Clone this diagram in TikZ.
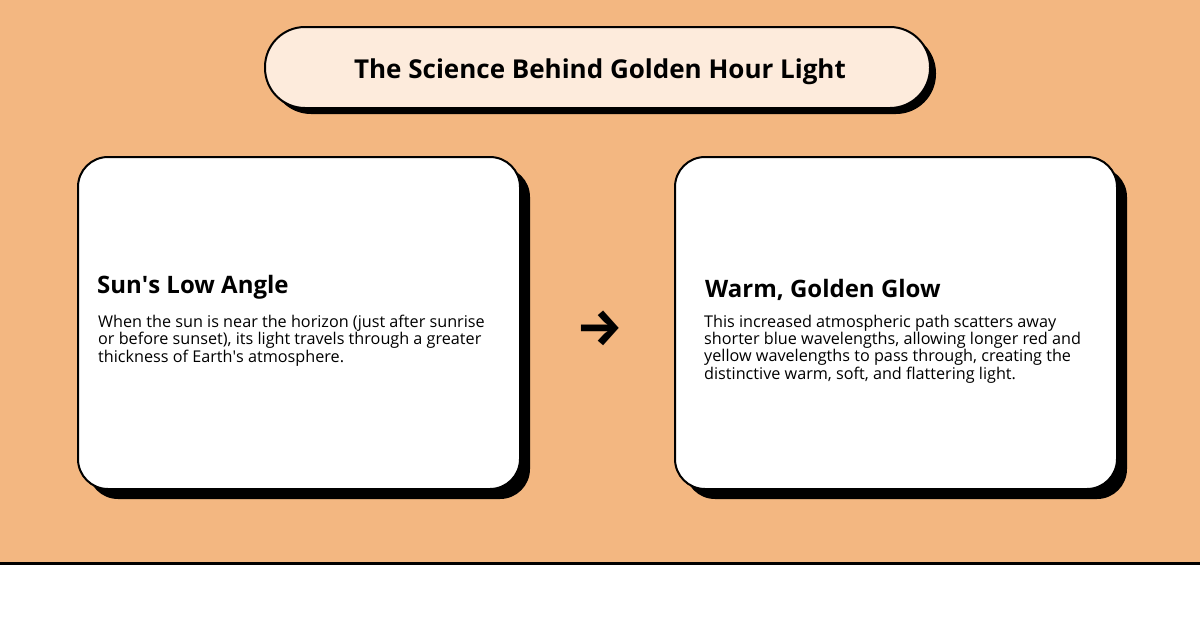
\documentclass[tikz,border=0pt]{standalone}
\usepackage{fontspec}
\setmainfont{Open Sans}
\newfontfamily\arrowfont{Fira Sans}
\usetikzlibrary{shadows}
\definecolor{duskorange}{HTML}{F3B781}
\definecolor{peach}{HTML}{FDEBDC}
\tikzset{
  card/.style={draw=black,line width=2pt,rounded corners=30pt,fill=white,
    minimum width=442pt,minimum height=332pt,anchor=north west,
    drop shadow={shadow xshift=10pt,shadow yshift=-10pt,opacity=1,fill=black}},
  pill/.style={draw=black,line width=2pt,rounded corners=40pt,fill=peach,
    minimum width=665pt,minimum height=81pt,
    drop shadow={shadow xshift=6pt,shadow yshift=-6pt,opacity=1,fill=black}},
  heading/.style={anchor=base west,inner sep=0pt,font=\bfseries\fontsize{24}{28}\selectfont},
  body/.style={anchor=base west,inner sep=0pt,align=left,
    font=\fontsize{16.2}{16}\selectfont}
}

\begin{document}
\begin{tikzpicture}[x=1pt,y=-1pt]
  \useasboundingbox (0,0) rectangle (1200,630);
  \fill[duskorange] (0,0) rectangle (1200,563);
  \draw[line width=3pt] (0,563.5) -- (1200,563.5);

  \node[pill] (title) at (597.5,67.5) {};
  \node[anchor=base,inner sep=0pt,font=\bfseries\fontsize{26}{30}\selectfont]
    (titletext) at (600,78) {The Science Behind Golden Hour Light};

  % left card
  \node[card] (low) at (77,156) {};
  \node[heading] (lowhead) at (97,293) {Sun\textquotesingle s Low Angle};
  \node[body] (lowbody) at (98,362)
    {When the sun is near the horizon (just after sunrise\\
     or before sunset), its light travels through a greater\\
     thickness of Earth\textquotesingle s atmosphere.};

  \node[anchor=center,inner sep=0pt,font=\arrowfont\bfseries\fontsize{52}{52}\selectfont]
    (arrow) at (600,328) {→};

  % right card
  \node[card] (glow) at (674,156) {};
  \node[heading] (glowhead) at (705,297) {Warm, Golden Glow};
  \node[body] (glowbody) at (704,379)
    {This increased atmospheric path scatters away\\
     shorter blue wavelengths, allowing longer red and\\
     yellow wavelengths to pass through, creating the\\
     distinctive warm, soft, and flattering light.};
\end{tikzpicture}
\end{document}
